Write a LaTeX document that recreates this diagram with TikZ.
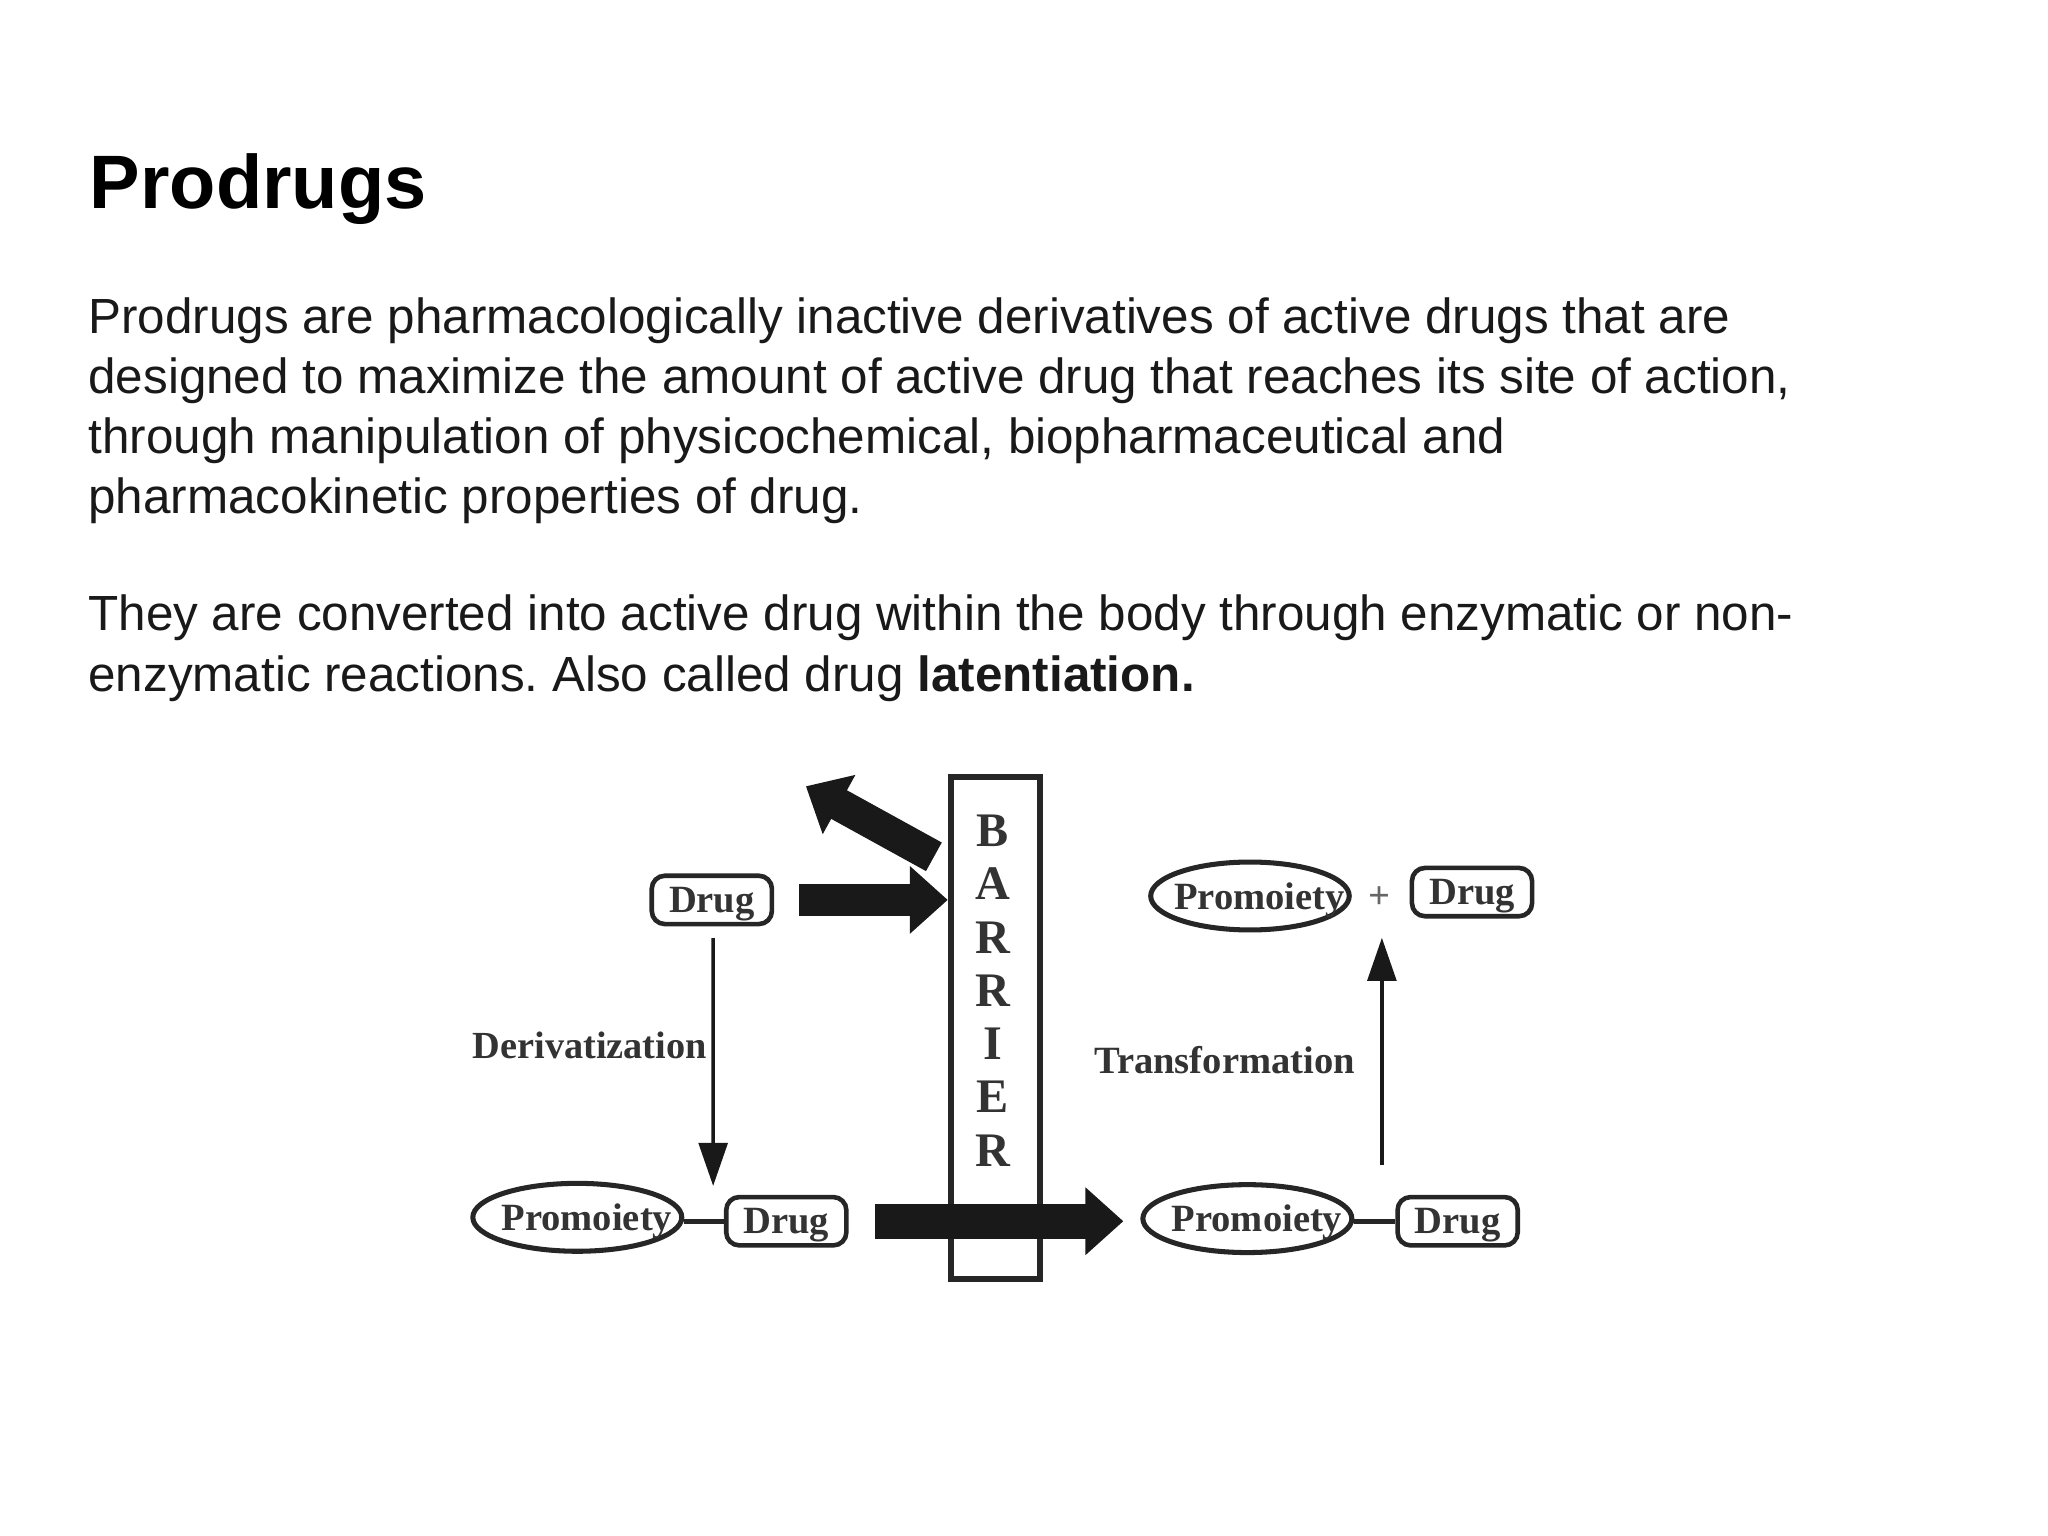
\documentclass[tikz,border=0pt]{standalone}
\usepackage{fontspec}
\setmainfont{Liberation Sans}
\newfontfamily\labelfont{Liberation Serif}
\usetikzlibrary{arrows.meta,shapes.geometric}
\newcommand{\promotext}{\makebox[0pt][l]{\hspace{-.58cm}Promoiety}}
\frenchspacing
\begin{document}
\begin{tikzpicture}
	\tikzset{title/.style = {anchor=north west,inner sep=0pt,font=\bfseries\fontsize{16.5}{20}\selectfont}}
	\tikzset{para/.style = {anchor=north west,inner sep=0pt,align=left,text=black!90,font=\fontsize{10.76}{13.1}\selectfont}}
	\tikzset{label/.style = {inner sep=0pt,text=black!80,font=\labelfont\bfseries\fontsize{8.4}{10}\selectfont}}
	\tikzset{drugbox/.style = {label,draw=black!85,line width=1pt,rounded corners=.1cm,minimum width=.92cm,minimum height=.37cm,text depth=0pt}}
	\tikzset{moiety/.style = {label,draw=black!85,shape=ellipse,line width=1.1pt,minimum width=1.6cm,minimum height=.52cm,text depth=0pt}}
	\tikzset{fatarrow/.style = {-{Triangle[length=.29cm,width=.5cm]},line width=.25cm,black!90}}
	\tikzset{thinarrow/.style = {-{Triangle[length=.33cm,width=.22cm]},line width=.8pt,black!90}}
	\useasboundingbox (0,0) rectangle (15.68,-11.76);
	% text
	\node[title] (head) at (.68,-1.17) {Prodrugs};
	\node[para] (first) at (.67,-2.27) {Prodrugs are pharmacologically inactive derivatives of active drugs that are\\designed to maximize the amount of active drug that reaches its site of action,\\through manipulation of physicochemical, biopharmaceutical and\\pharmacokinetic properties of drug.};
	\node[para] (second) at (.67,-4.55) {They are converted into active drug within the body through enzymatic or non-\\enzymatic reactions. Also called drug \textbf{latentiation.}};
	% barrier
	\node[draw=black!85,line width=1.35pt,minimum width=.68cm,minimum height=3.84cm,inner sep=0pt] (barrier) at (7.62,-7.87) {};
	\foreach \letter [count=\i from 0] in {B,A,R,R,I,E,R}
		\node[label,font=\labelfont\bfseries\fontsize{10.5}{12}\selectfont] (bar\i) at (7.60,-6.36-.408*\i) {\letter};
	% nodes
	\node[drugbox] (drugA) at (5.45,-6.89) {Drug};
	\node[moiety] (promoA) at (4.42,-9.32) {\promotext};
	\node[drugbox] (drugB) at (6.02,-9.35) {Drug};
	\node[moiety] (promoB) at (9.55,-9.33) {\promotext};
	\node[drugbox] (drugC) at (11.16,-9.35) {Drug};
	\node[moiety,minimum width=1.52cm] (promoC) at (9.57,-6.86) {\promotext};
	\node[label,text=black!60] (plus) at (10.56,-6.87) {+};
	\node[drugbox] (drugD) at (11.27,-6.83) {Drug};
	\node[label,font=\labelfont\bfseries\fontsize{8.35}{10}\selectfont] (derive) at (4.515,-8.00) {Derivatization};
	\node[label] (transform) at (9.375,-8.12) {Transformation};
	% free ends
	\coordinate (deriveEnd) at (5.46,-9.08);
	\coordinate (transStart) at (10.58,-8.92);
	\coordinate (transEnd) at (10.58,-7.18);
	\coordinate (bounceStart) at (7.15,-6.56);
	\coordinate (bounceEnd) at (6.17,-6.02);
	% connectors
	\draw[line width=1pt,black!85] (drugB.west -| promoA.east) -- (drugB.west);
	\draw[line width=1pt,black!85] (drugC.west -| promoB.east) -- (drugC.west);
	\draw[thinarrow,shorten <=.09cm] (drugA.south) ++(.01,0) -- (deriveEnd);
	\draw[thinarrow] (transStart) -- (transEnd);
	\draw[fatarrow,shorten <=.19cm] (drugA.east) -- (drugA.east -| barrier.west);
	\draw[fatarrow] (bounceStart) -- (bounceEnd);
	\draw[fatarrow,line width=.27cm,shorten <=.2cm,shorten >=.13cm] (drugB.east) -- (drugB.east -| promoB.west);
\end{tikzpicture}
\end{document}
